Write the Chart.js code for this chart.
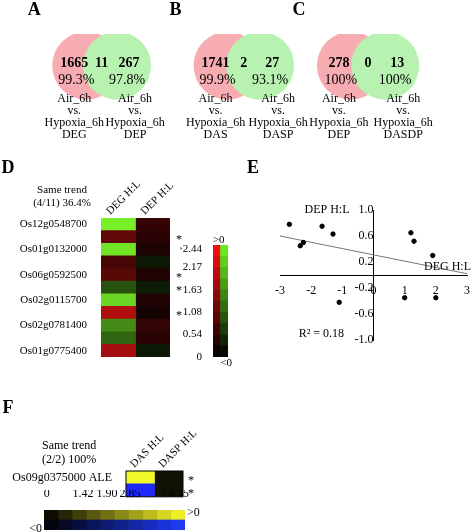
<!DOCTYPE html>
<html>
<head>
<meta charset="utf-8">
<script src="https://cdn.jsdelivr.net/npm/chart.js@4/dist/chart.umd.min.js"></script>
<style>
body { margin: 0; background: #fff; }
#wrap { position: relative; width: 474px; height: 532px; }
#wrap canvas { position: absolute; }
</style>
</head>
<body>
<div id="wrap">
  <canvas id="venn" style="left:0px;top:0px" width="474" height="160"></canvas>
  <canvas id="heatD" style="left:0px;top:160px" width="240" height="210"></canvas>
  <canvas id="barD" style="left:180px;top:235px" width="60" height="135"></canvas>
  <canvas id="scatE" style="left:240px;top:160px" width="234" height="210"></canvas>
  <canvas id="heatF" style="left:0px;top:400px" width="240" height="110"></canvas>
  <canvas id="barF" style="left:20px;top:490px" width="200" height="42"></canvas>
</div>
<script>
// venn panels
var vennCounts = [[1665, 11, 267], [1741, 2, 27], [278, 0, 13]];
var vennPcts = [['99.3%', '97.8%'], ['99.9%', '93.1%'], ['100%', '100%']];
var vennSets = [['DEG', 'DEP'], ['DAS', 'DASP'], ['DEP', 'DASDP']];

// panel D
var genesD = ['Os12g0548700', 'Os03g0607200', 'Os01g0132000', 'Os01g0905800', 'Os06g0592500',
  'Os07g0600700', 'Os02g0115700', 'Os07g0438600', 'Os02g0781400', 'Os04g0587200', 'Os01g0775400'];
var degHL = [-2.7, 1.3, -2.35, 1.0, 1.2, -1.1, -2.25, 2.0, -1.65, -1.3, 1.9];
var depHL = [0.78, 0.65, 0.45, -0.35, 0.52, -0.42, 0.5, 0.3, 0.75, 0.63, -0.35];
var starD = [0, 1, 0, 0, 1, 1, 0, 1, 0, 0, 0];
var scaleTicksD = ['0', '0.54', '1.08', '1.63', '2.17', '>2.44'];

// panel E
var scatterX = [-2.7, -2.35, -2.25, -1.65, -1.3, -1.1, 1.0, 1.2, 1.3, 1.9, 2.0];
var scatterY = [0.78, 0.45, 0.5, 0.75, 0.63, -0.42, -0.35, 0.65, 0.52, 0.3, -0.35];
var fitX = [-3, 3];
var fitY = [0.6, 0.02];
var yTicksE = [-1.0, -0.6, -0.2, 0.2, 0.6, 1.0];

// panel F
var genesF = ['Os09g0375000 ALE', 'Os10g0447100 ALE'];
var dasHL = [4.75, -4.75];
var daspHL = [0, 0];
var scaleTicksF = ['0', '1.42', '1.90', '2.85', '>4.75'];

Chart.defaults.font.family = '"Liberation Serif", "DejaVu Serif", serif';
Chart.defaults.color = '#000';
Chart.defaults.animation = false;
Chart.defaults.plugins.legend.display = false;
Chart.defaults.plugins.tooltip.enabled = false;

function shade(r, g, b, t) {
  return 'rgb(' + Math.round(r * t) + ',' + Math.round(g * t) + ',' + Math.round(b * t) + ')';
}
function colD(v) {
  var t = Math.pow(Math.min(Math.abs(v) / 2.44, 1), 1.5) * 0.95 + 0.05;
  return v >= 0 ? shade(235, 20, 20, t) : shade(120, 240, 40, t);
}
function colF(v) {
  var t = Math.min(Math.abs(v) / 4.75, 1) * 0.93 + 0.07;
  return v >= 0 ? shade(240, 250, 40, t) : shade(30, 40, 250, t);
}
function text(ctx, s, x, y, font, align) {
  ctx.font = font;
  ctx.textAlign = align || 'center';
  ctx.textBaseline = 'middle';
  ctx.fillStyle = '#000';
  ctx.fillText(s, x, y);
}
var serif = '"Liberation Serif", serif';

// ---- Venn diagrams A-C
var vennX = [[61, 97], [226, 264], [370, 410]];
var vennLetters = ['A', 'B', 'C'];
new Chart(document.getElementById('venn'), {
  type: 'bubble',
  data: {
    datasets: [{
      data: vennX.map(function (p) { return { x: p[1], y: 55, r: 34 }; }),
      backgroundColor: 'rgb(184,242,176)', borderWidth: 0
    }, {
      data: vennX.map(function (p) { return { x: p[0], y: 55, r: 34 }; }),
      backgroundColor: 'rgb(247,172,178)', borderWidth: 0
    }]
  },
  options: {
    responsive: false,
    layout: { padding: 0 },
    scales: {
      x: { display: false, min: 0, max: 474 },
      y: { display: false, min: 0, max: 160, reverse: true }
    }
  },
  plugins: [{
    beforeDatasetDraw: function (c, a) { if (a.index === 1) { c.ctx.save(); c.ctx.globalCompositeOperation = 'multiply'; } },
    afterDatasetDraw: function (c, a) { if (a.index === 1) c.ctx.restore(); },
    afterDraw: function (c) {
      var ctx = c.ctx, xs = c.scales.x, ys = c.scales.y;
      vennX.forEach(function (p, i) {
        var l = xs.getPixelForValue(p[0]), r = xs.getPixelForValue(p[1]);
        var m = (l + r) / 2, cy = ys.getPixelForValue(55);
        text(ctx, vennLetters[i], l - 52, 10, 'bold 18px ' + serif, 'center');
        text(ctx, String(vennCounts[i][0]), l - 12, cy - 2, 'bold 14px ' + serif);
        text(ctx, String(vennCounts[i][1]), m, cy - 2, 'bold 14px ' + serif);
        text(ctx, String(vennCounts[i][2]), r + 12, cy - 2, 'bold 14px ' + serif);
        text(ctx, vennPcts[i][0], l - 10, cy + 15, '14px ' + serif);
        text(ctx, vennPcts[i][1], r + 10, cy + 15, '14px ' + serif);
        [l - 12, r + 18].forEach(function (x, k) {
          text(ctx, 'Air_6h', x, 99, '12px ' + serif);
          text(ctx, 'vs.', x, 111, '12px ' + serif);
          text(ctx, 'Hypoxia_6h', x, 123, '12px ' + serif);
          text(ctx, vennSets[i][k], x, 135, '12px ' + serif);
        });
      });
    }
  }]
});

// ---- heatmap D
new Chart(document.getElementById('heatD'), {
  type: 'bar',
  data: {
    labels: genesD,
    datasets: [
      { label: 'DEG H:L', data: genesD.map(function () { return 1; }), backgroundColor: degHL.map(colD) },
      { label: 'DEP H:L', data: genesD.map(function () { return 1; }), backgroundColor: depHL.map(colD) }
    ]
  },
  options: {
    responsive: false,
    indexAxis: 'y',
    barPercentage: 1, categoryPercentage: 1,
    layout: { padding: { left: 0, top: 58, right: 70, bottom: 13 } },
    scales: {
      x: { display: false, stacked: true, min: 0, max: 2 },
      y: {
        stacked: true, grid: { display: false }, border: { display: false },
        ticks: { font: { size: 11 }, padding: 6 },
        afterFit: function (s) { s.width = 101; }
      }
    }
  },
  plugins: [{
    afterDraw: function (c) {
      var ctx = c.ctx, xs = c.scales.x, ys = c.scales.y, ca = c.chartArea;
      text(ctx, 'D', 8, 8, 'bold 18px ' + serif);
      text(ctx, 'Same trend', 62, 30, '11px ' + serif);
      text(ctx, '(4/11) 36.4%', 62, 43, '11px ' + serif);
      ['DEG H:L', 'DEP H:L'].forEach(function (s, k) {
        ctx.save();
        ctx.translate(xs.getPixelForValue(k + 0.5) - 10, ca.top - 5);
        ctx.rotate(-Math.PI / 4);
        text(ctx, s, 0, 0, '11px ' + serif, 'left');
        ctx.restore();
      });
      starD.forEach(function (s, i) {
        if (s) text(ctx, '*', ca.right + 9, ys.getPixelForValue(i) + 3, '12px ' + serif);
      });
    }
  }]
});

// ---- colour key D
var stepsD = [];
for (var i = 0; i < 10; i++) stepsD.push(i);
new Chart(document.getElementById('barD'), {
  type: 'bar',
  data: {
    labels: ['pos', 'neg'],
    datasets: stepsD.map(function (k) {
      var t = (k + 0.5) / 10;
      return { data: [1, 1], backgroundColor: [shade(255, 15, 15, t), shade(110, 245, 30, t)] };
    })
  },
  options: {
    responsive: false,
    barPercentage: 1, categoryPercentage: 1,
    layout: { padding: { left: 0, top: 10, right: 12, bottom: 13 } },
    scales: {
      x: { display: false, stacked: true },
      y: {
        stacked: true, min: 0, max: 10,
        grid: { display: false }, border: { display: false },
        afterBuildTicks: function (s) { s.ticks = [0, 2, 4, 6, 8, 9.6].map(function (v) { return { value: v }; }); },
        ticks: { font: { size: 11 }, padding: 3, callback: function (v, i) { return scaleTicksD[i]; } },
        afterFit: function (s) { s.width = 33; }
      }
    }
  },
  plugins: [{
    afterDraw: function (c) {
      var ctx = c.ctx, xs = c.scales.x, ca = c.chartArea;
      text(ctx, '>0', xs.getPixelForValue(0) + 2, ca.top - 5, '11px ' + serif);
      text(ctx, '<0', xs.getPixelForValue(1) + 2, ca.bottom + 6, '11px ' + serif);
    }
  }]
});

// ---- scatter E
new Chart(document.getElementById('scatE'), {
  type: 'scatter',
  data: {
    datasets: [{
      data: scatterX.map(function (x, i) { return { x: x, y: scatterY[i] }; }),
      backgroundColor: '#000', borderColor: '#000', pointRadius: 2.2
    }, {
      type: 'line',
      data: fitX.map(function (x, i) { return { x: x, y: fitY[i] }; }),
      borderColor: '#777', borderWidth: 1, pointRadius: 0
    }]
  },
  options: {
    responsive: false,
    layout: { padding: { left: 40, top: 50, right: 7, bottom: 30 } },
    scales: {
      x: {
        type: 'linear', min: -3, max: 3, position: { y: 0 },
        grid: { display: false, drawTicks: true }, border: { color: '#000' },
        ticks: { stepSize: 1, font: { size: 12 }, padding: 1, color: '#000' }
      },
      y: {
        min: -1, max: 1, position: { x: 0 },
        grid: { display: false }, border: { color: '#000' },
        afterBuildTicks: function (s) { s.ticks = yTicksE.map(function (v) { return { value: v }; }); },
        ticks: { font: { size: 12 }, padding: 2, callback: function (v) { return v.toFixed(1); } }
      }
    }
  },
  plugins: [{
    afterDraw: function (c) {
      var ctx = c.ctx, xs = c.scales.x, ys = c.scales.y;
      text(ctx, 'E', 13, 8, 'bold 18px ' + serif);
      text(ctx, 'DEP H:L', xs.getPixelForValue(0) - 24, ys.getPixelForValue(1), '12px ' + serif, 'right');
      text(ctx, 'DEG H:L', xs.getPixelForValue(3) + 4, ys.getPixelForValue(0.13), '12px ' + serif, 'right');
      text(ctx, 'R\u00b2 = 0.18', xs.getPixelForValue(-2.4), ys.getPixelForValue(-0.9), '12px ' + serif, 'left');
    }
  }]
});

// ---- heatmap F
new Chart(document.getElementById('heatF'), {
  type: 'bar',
  data: {
    labels: genesF,
    datasets: [
      { label: 'DAS H:L', data: [1, 1], backgroundColor: dasHL.map(colF) },
      { label: 'DASP H:L', data: [1, 1], backgroundColor: daspHL.map(colF) }
    ]
  },
  options: {
    responsive: false,
    indexAxis: 'y',
    barPercentage: 1, categoryPercentage: 1,
    layout: { padding: { left: 0, top: 71, right: 57, bottom: 13 } },
    scales: {
      x: { display: false, stacked: true, min: 0, max: 2 },
      y: {
        stacked: true, grid: { display: false }, border: { display: false },
        ticks: { font: { size: 12 }, padding: 6 },
        afterFit: function (s) { s.width = 126; }
      }
    }
  },
  plugins: [{
    afterDraw: function (c) {
      var ctx = c.ctx, xs = c.scales.x, ys = c.scales.y, ca = c.chartArea;
      text(ctx, 'F', 8, 8, 'bold 18px ' + serif);
      text(ctx, 'Same trend', 42, 46, '12px ' + serif, 'left');
      text(ctx, '(2/2) 100%', 42, 60, '12px ' + serif, 'left');
      ctx.strokeStyle = '#000';
      ctx.lineWidth = 1;
      ctx.strokeRect(ca.left, ca.top, ca.width, ca.height);
      ['DAS H:L', 'DASP H:L'].forEach(function (s, k) {
        ctx.save();
        ctx.translate(xs.getPixelForValue(k + 0.5) - 8, ca.top - 5);
        ctx.rotate(-Math.PI / 4);
        text(ctx, s, 0, 0, '11px ' + serif, 'left');
        ctx.restore();
      });
      genesF.forEach(function (g, i) {
        text(ctx, '*', ca.right + 8, ys.getPixelForValue(i) + 3, '12px ' + serif);
      });
    }
  }]
});

// ---- colour key F
new Chart(document.getElementById('barF'), {
  type: 'bar',
  data: {
    labels: ['pos', 'neg'],
    datasets: stepsD.map(function (k) {
      var t = (k + 0.5) / 10;
      return { data: [1, 1], backgroundColor: [shade(250, 250, 40, t), shade(30, 60, 255, t)] };
    })
  },
  options: {
    responsive: false,
    indexAxis: 'y',
    barPercentage: 1, categoryPercentage: 1,
    layout: { padding: { left: 24, top: 0, right: 35, bottom: 2 } },
    scales: {
      y: { display: false, stacked: true },
      x: {
        stacked: true, min: 0, max: 10, position: 'top',
        grid: { display: false }, border: { display: false },
        afterBuildTicks: function (s) { s.ticks = [0.2, 2.77, 4.47, 6.1, 9.3].map(function (v) { return { value: v }; }); },
        ticks: { font: { size: 12 }, padding: 1, maxRotation: 0, autoSkip: false, callback: function (v, i) { return scaleTicksF[i]; } }
      }
    }
  },
  plugins: [{
    afterDraw: function (c) {
      var ctx = c.ctx, ys = c.scales.y, ca = c.chartArea;
      text(ctx, '>0', ca.right + 2, ys.getPixelForValue(0) - 2, '12px ' + serif, 'left');
      text(ctx, '<0', ca.left - 2, ys.getPixelForValue(1) + 4, '12px ' + serif, 'right');
    }
  }]
});
</script>
</body>
</html>
